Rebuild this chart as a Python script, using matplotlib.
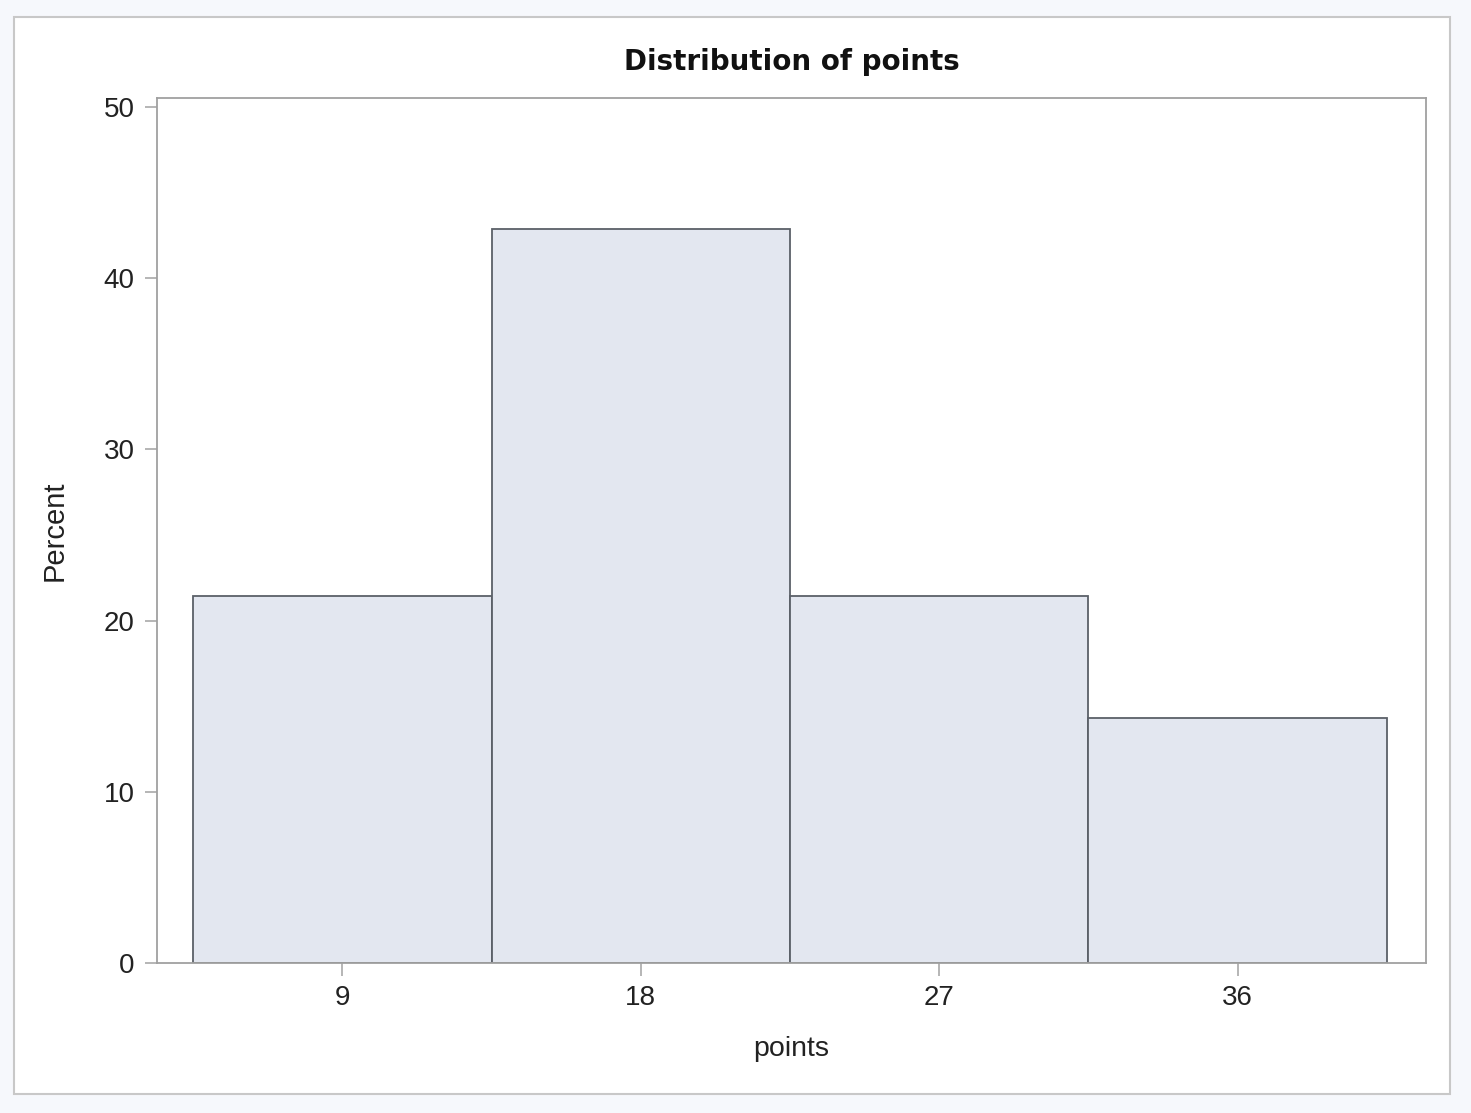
import matplotlib.pyplot as plt
from matplotlib.patches import Rectangle

bin_centers = [9, 18, 27, 36]
percents = [21.43, 42.86, 21.43, 14.29]
bin_width = 9
x_ticks = [9, 18, 27, 36]
y_ticks = [0, 10, 20, 30, 40, 50]

plt.rcParams["font.family"] = ["Liberation Sans", "DejaVu Sans"]

fig = plt.figure(figsize=(14.71, 11.13), dpi=100)
fig.patch.set_facecolor("#f6f8fc")

# white panel with grey border, like the SAS output frame
frame = Rectangle((14 / 1471, 1 - 1094 / 1113), 1436 / 1471, 1077 / 1113,
                  transform=fig.transFigure, facecolor="white",
                  edgecolor="#c8c8c8", linewidth=1.5, zorder=-10)
fig.patches.append(frame)

ax = fig.add_axes([157 / 1471, 1 - 963 / 1113, 1269 / 1471, 865 / 1113])
ax.set_zorder(5)
ax.set_facecolor("white")

ax.bar(bin_centers, percents, width=bin_width, color="#e3e7f0",
       edgecolor="#5b6068", linewidth=1.3)

ax.set_xlim(3.41, 41.68)
ax.set_ylim(0, 50.53)
ax.set_xticks(x_ticks)
ax.set_yticks(y_ticks)

for s in ax.spines.values():
    s.set_color("#a0a0a0")
    s.set_linewidth(1.3)

ax.tick_params(axis="both", direction="out", length=9, width=1.3,
               color="#b0b0b0", labelsize=20, labelcolor="#222222", pad=7)

ax.set_title("Distribution of points", fontsize=20, fontweight="bold",
             family="DejaVu Sans", color="#111111", pad=20)
ax.set_xlabel("points", fontsize=20.5, color="#222222", labelpad=18)
ax.set_ylabel("Percent", fontsize=21, color="#222222", labelpad=25)

fig.savefig("out.png", dpi=100, facecolor=fig.get_facecolor())
